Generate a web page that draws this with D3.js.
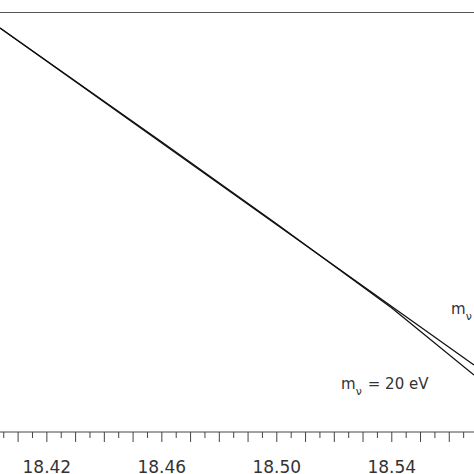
<!DOCTYPE html><html><head><script src="https://cdn.jsdelivr.net/npm/d3@7"></script>
<style>body{margin:0;background:#fff}</style></head><body>
<script>
const xTicks=[18.42,18.46,18.50,18.54];
const xA=[18.4037,18.5686];
const yA=[404,67];
const xB=[18.4037,18.46,18.50,18.52,18.54,18.5686];
const yB=[404,290,208,166,124,57];
const W=474,H=474;
const svg=d3.select("body").append("svg").attr("width",W).attr("height",H);
const x=d3.scaleLinear().domain([18.4037,18.5686]).range([0,474]);
const y=d3.scaleLinear().domain([0,420]).range([432,12]);
svg.append("line").attr("x1",0).attr("x2",W).attr("y1",12.5).attr("y2",12.5).attr("stroke","#555").attr("stroke-width",1.2);
const ax=svg.append("g").attr("transform","translate(0,432)");
ax.append("line").attr("x1",0).attr("x2",W).attr("stroke","#444").attr("stroke-width",1.2);
const minor=d3.range(18.405,18.57,0.005);
ax.selectAll(".t").data(minor).join("line").attr("x1",d=>x(d)).attr("x2",d=>x(d)).attr("y1",0)
 .attr("y2",d=>Math.abs(Math.round(d*100)-d*100)<0.01?10:6).attr("stroke","#444");
ax.selectAll(".l").data(xTicks).join("text").attr("x",d=>x(d)).attr("y",41).attr("text-anchor","middle")
 .attr("font-family","DejaVu Sans").attr("font-size",17).attr("fill","#333").text(d=>d.toFixed(2));
const line=d3.line().x(d=>x(d[0])).y(d=>y(d[1]));
[[xA,yA],[xB,yB]].forEach(([xs,ys])=>svg.append("path").attr("d",line(xs.map((v,i)=>[v,ys[i]]))).attr("fill","none").attr("stroke","#111").attr("stroke-width",1.3));
function lab(tx,ty,rest){const t=svg.append("text").attr("x",tx).attr("y",ty).attr("font-family","DejaVu Sans").attr("font-size",15).attr("fill","#333");
 t.append("tspan").text("m");t.append("tspan").attr("dy",6).attr("font-size",11).text("ν");
 if(rest)t.append("tspan").attr("dy",-6).attr("dx",6).text(rest);}
lab(451,314,"");lab(341,389,"=  20  eV");
</script></body></html>
